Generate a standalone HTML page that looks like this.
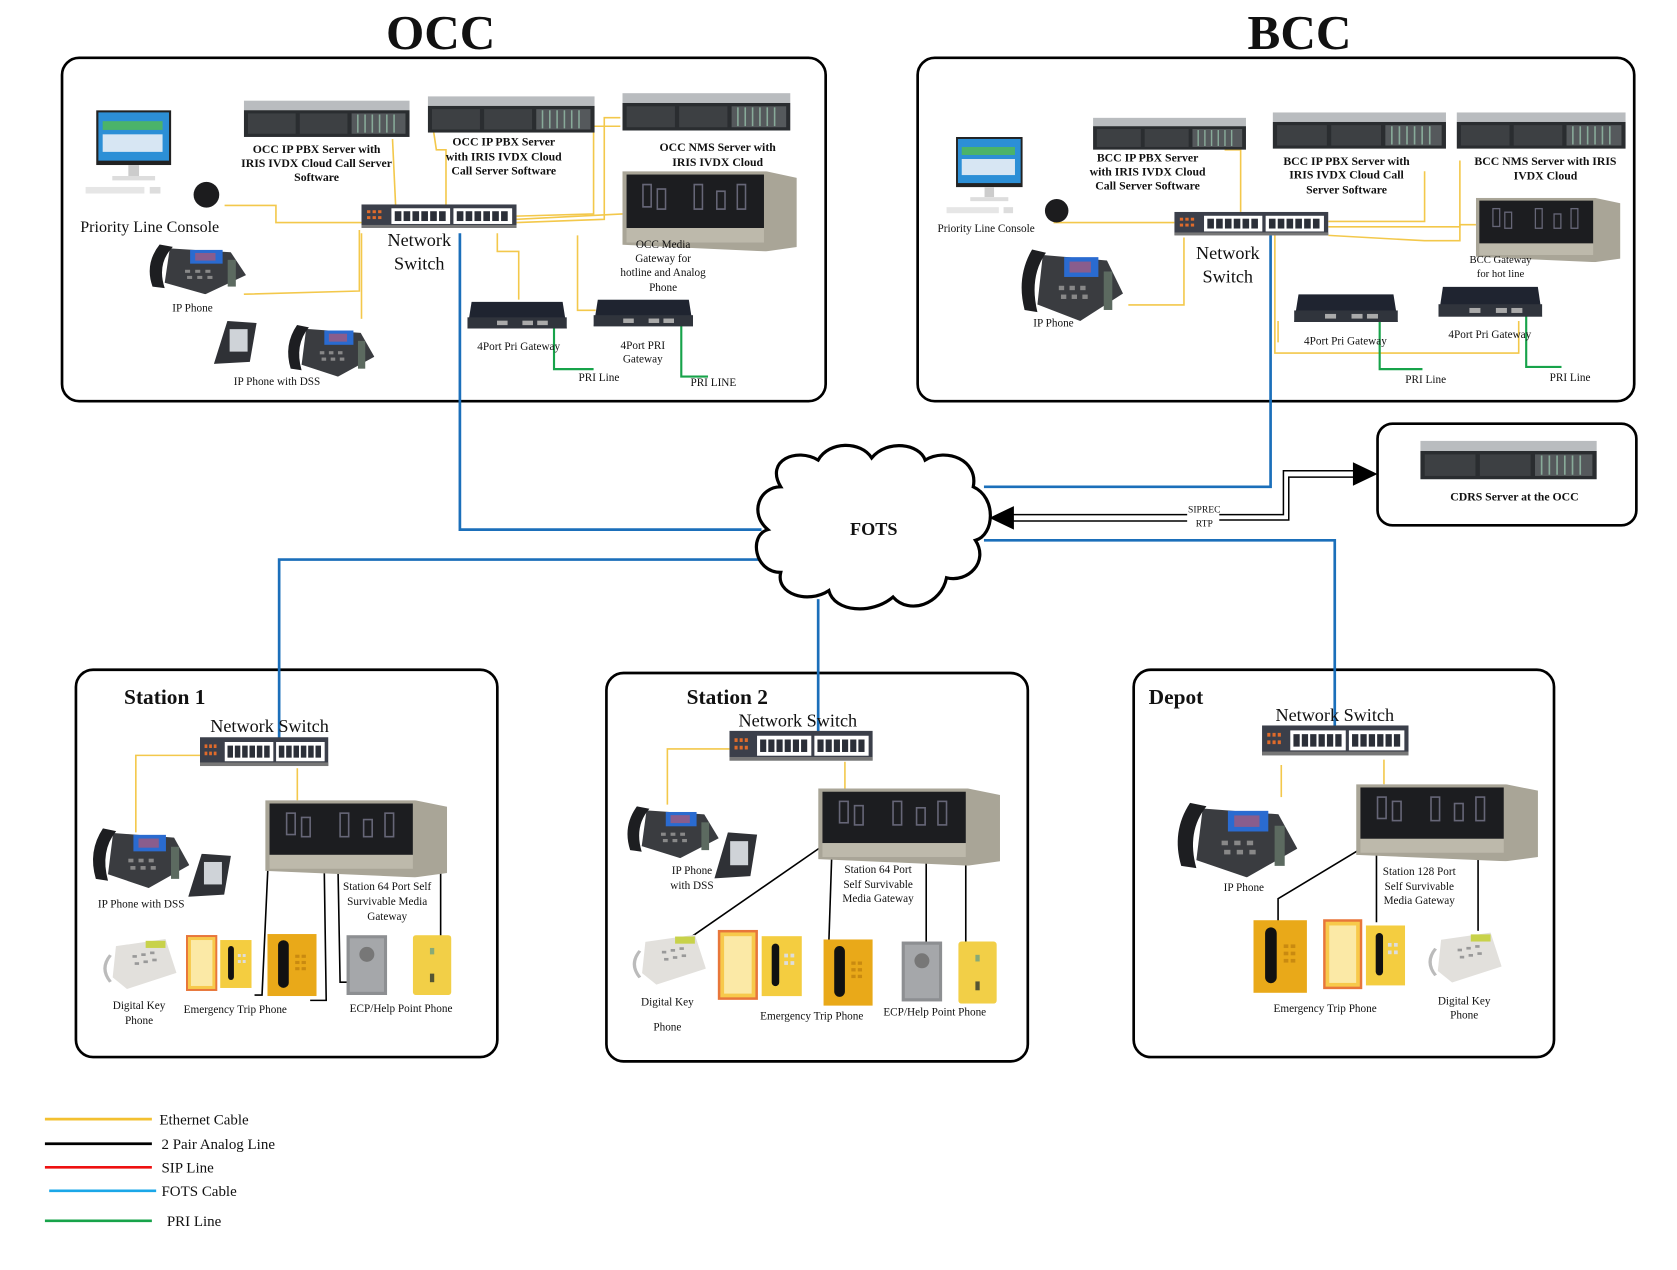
<!DOCTYPE html>
<html><head><meta charset="utf-8"><style>
html,body{margin:0;padding:0;background:#fff;}
svg{display:block;}
text{font-family:"Liberation Serif",serif;fill:#111;}
</style></head><body>
<svg width="1677" height="1270" viewBox="0 0 1568 1187" preserveAspectRatio="none" xmlns="http://www.w3.org/2000/svg">
<defs>
<symbol id="srv" viewBox="0 0 160 34" preserveAspectRatio="none">
<rect x="0" y="0" width="160" height="9" fill="#b9bcbf"/>
<rect x="0" y="9" width="160" height="25" fill="#2a2d30"/>
<rect x="4" y="12" width="46" height="19" fill="#3d4043"/>
<rect x="54" y="12" width="46" height="19" fill="#3d4043"/>
<rect x="104" y="12" width="52" height="19" fill="#55595c"/>
<g stroke="#8a9" stroke-width="1.5"><line x1="110" y1="13" x2="110" y2="30"/><line x1="117" y1="13" x2="117" y2="30"/><line x1="124" y1="13" x2="124" y2="30"/><line x1="131" y1="13" x2="131" y2="30"/><line x1="138" y1="13" x2="138" y2="30"/><line x1="145" y1="13" x2="145" y2="30"/></g>
</symbol>
<symbol id="sw" viewBox="0 0 140 24" preserveAspectRatio="none">
<rect x="0" y="0" width="140" height="24" fill="#3b3f4a"/>
<rect x="0" y="21" width="140" height="3" fill="#777"/>
<g fill="#e06b2b"><rect x="5" y="6" width="3" height="3"/><rect x="10" y="6" width="3" height="3"/><rect x="15" y="6" width="3" height="3"/><rect x="5" y="12" width="3" height="3"/><rect x="10" y="12" width="3" height="3"/><rect x="15" y="12" width="3" height="3"/></g>
<rect x="27" y="4" width="53" height="16" fill="#fff"/><rect x="83" y="4" width="53" height="16" fill="#fff"/>
<g fill="#2b2f38"><rect x="30" y="7" width="6" height="10"/><rect x="38" y="7" width="6" height="10"/><rect x="46" y="7" width="6" height="10"/><rect x="54" y="7" width="6" height="10"/><rect x="62" y="7" width="6" height="10"/><rect x="70" y="7" width="6" height="10"/><rect x="86" y="7" width="6" height="10"/><rect x="94" y="7" width="6" height="10"/><rect x="102" y="7" width="6" height="10"/><rect x="110" y="7" width="6" height="10"/><rect x="118" y="7" width="6" height="10"/><rect x="126" y="7" width="6" height="10"/></g>
</symbol>
<symbol id="mg" viewBox="0 0 170 72" preserveAspectRatio="none">
<polygon points="0,0 140,0 170,6 170,68 140,72 0,66" fill="#a9a597"/>
<rect x="4" y="3" width="134" height="48" fill="#1c1d20"/>
<g stroke="#667" stroke-width="1.5" fill="none"><rect x="20" y="12" width="8" height="20"/><rect x="34" y="16" width="8" height="18"/><rect x="70" y="12" width="8" height="22"/><rect x="92" y="18" width="8" height="16"/><rect x="112" y="12" width="8" height="22"/></g>
<rect x="4" y="51" width="134" height="13" fill="#bdb9ab"/>
</symbol>
<symbol id="gw" viewBox="0 0 94 24" preserveAspectRatio="none">
<polygon points="4,0 90,0 94,24 0,24" fill="#1f2430"/>
<rect x="0" y="14" width="94" height="10" fill="#30343c"/>
<g fill="#aaa"><rect x="28" y="17" width="10" height="4"/><rect x="52" y="17" width="10" height="4"/><rect x="66" y="17" width="10" height="4"/></g>
</symbol>
<symbol id="ph" viewBox="0 0 100 70" preserveAspectRatio="none">
<polygon points="25,10 85,15 100,45 60,70 20,55" fill="#3a3c40"/>
<path d="M15,5 Q0,30 8,60 L20,62 Q12,30 28,8 Z" fill="#1d1e21"/>
<rect x="45" y="12" width="32" height="18" fill="#2a6bd0"/>
<rect x="50" y="16" width="20" height="10" fill="#e8504a" opacity=".5"/>
<g fill="#888"><rect x="40" y="38" width="5" height="4"/><rect x="50" y="38" width="5" height="4"/><rect x="60" y="38" width="5" height="4"/><rect x="42" y="46" width="5" height="4"/><rect x="52" y="46" width="5" height="4"/><rect x="62" y="46" width="5" height="4"/></g>
<rect x="82" y="25" width="8" height="35" fill="#5c6a60"/>
</symbol>
<symbol id="dss" viewBox="0 0 40 44" preserveAspectRatio="none">
<polygon points="12,0 38,2 32,40 0,42" fill="#2f3136"/>
<rect x="14" y="8" width="16" height="22" fill="#cfd3d8"/>
</symbol>
<symbol id="dk" viewBox="0 0 70 60" preserveAspectRatio="none">
<polygon points="15,10 60,2 70,40 25,58 12,45" fill="#e2e0dc"/>
<rect x="42" y="4" width="18" height="8" fill="#c8d24a"/>
<g fill="#999"><rect x="30" y="20" width="4" height="3"/><rect x="38" y="18" width="4" height="3"/><rect x="46" y="16" width="4" height="3"/><rect x="32" y="28" width="4" height="3"/><rect x="40" y="26" width="4" height="3"/><rect x="48" y="24" width="4" height="3"/></g>
<path d="M10,20 Q0,35 10,50" stroke="#bbb" stroke-width="3" fill="none"/>
</symbol>
<symbol id="et" viewBox="0 0 70 60" preserveAspectRatio="none">
<rect x="2" y="2" width="30" height="54" fill="#f7c94b" stroke="#e8763a" stroke-width="2"/>
<rect x="6" y="6" width="22" height="46" fill="#fbe9a6"/>
<rect x="36" y="6" width="32" height="48" fill="#f4cd40"/>
<rect x="44" y="12" width="6" height="34" rx="3" fill="#111"/>
<g fill="#ddd"><rect x="54" y="20" width="3" height="3"/><rect x="59" y="20" width="3" height="3"/><rect x="54" y="26" width="3" height="3"/><rect x="59" y="26" width="3" height="3"/></g>
</symbol>
<symbol id="yp" viewBox="0 0 46 60" preserveAspectRatio="none">
<rect x="0" y="0" width="46" height="60" fill="#e9a919"/>
<rect x="10" y="6" width="10" height="46" rx="5" fill="#111"/>
<g fill="#c98a10"><rect x="26" y="20" width="4" height="3"/><rect x="32" y="20" width="4" height="3"/><rect x="26" y="26" width="4" height="3"/><rect x="32" y="26" width="4" height="3"/><rect x="26" y="32" width="4" height="3"/><rect x="32" y="32" width="4" height="3"/></g>
</symbol>
<symbol id="hp" viewBox="0 0 38 56" preserveAspectRatio="none">
<rect x="0" y="0" width="38" height="56" fill="#8d8f92"/><rect x="3" y="3" width="32" height="50" fill="#a5a7aa"/><circle cx="19" cy="18" r="7" fill="#777"/>
</symbol>
<symbol id="yh" viewBox="0 0 36 56" preserveAspectRatio="none">
<rect x="0" y="0" width="36" height="56" rx="3" fill="#f2cf47"/><rect x="16" y="12" width="4" height="6" fill="#8a7"/><rect x="16" y="36" width="4" height="8" fill="#553"/>
</symbol>
<symbol id="pc" viewBox="0 0 90 80" preserveAspectRatio="none">
<rect x="10" y="0" width="70" height="50" fill="#222"/><rect x="12" y="2" width="66" height="44" fill="#2c8fd6"/>
<rect x="16" y="10" width="56" height="8" fill="#4bb36a"/><rect x="16" y="22" width="56" height="16" fill="#d7e6f3"/>
<rect x="40" y="50" width="10" height="10" fill="#ccc"/><rect x="25" y="60" width="40" height="4" fill="#ddd"/>
<rect x="0" y="70" width="55" height="6" fill="#e6e6e6"/><rect x="60" y="70" width="10" height="6" fill="#ddd"/>
</symbol>
</defs>

<!-- Titles -->
<text x="412" y="46" font-size="46" font-weight="bold" text-anchor="middle">OCC</text>
<text x="1215" y="46" font-size="46" font-weight="bold" text-anchor="middle">BCC</text>

<!-- Boxes -->
<g fill="none" stroke="#000" stroke-width="2.5">
<rect x="58" y="54" width="714" height="321" rx="16"/>
<rect x="858" y="54" width="670" height="321" rx="16"/>
<rect x="1288" y="396" width="242" height="95" rx="14"/>
<rect x="71" y="626" width="394" height="362" rx="16"/>
<rect x="567" y="629" width="394" height="363" rx="16"/>
<rect x="1060" y="626" width="393" height="362" rx="16"/>
</g>

<!-- OCC yellow lines -->
<g fill="none" stroke="#f3c84b" stroke-width="1.5">
<polyline points="210,192 258,192 258,208 340,208"/>
<polyline points="228,275 336,272 336,215"/>
<polyline points="338,298 338,218"/>
<line x1="367" y1="130" x2="370" y2="194"/>
<polyline points="405,120 408,140 417,140 417,194"/>
<polyline points="483,202 555,200 555,118 580,118"/>
<polyline points="483,205 582,200"/>
<polyline points="483,208 565,205 565,110 580,110"/>
<polyline points="465,218 465,235 485,235 485,280"/>
<polyline points="540,220 540,290 557,290"/>
</g>
<!-- BCC yellow lines -->
<g fill="none" stroke="#f3c84b" stroke-width="1.5">
<polyline points="985,208 1098,208"/>
<polyline points="1055,285 1107,285 1107,222"/>
<polyline points="1145,140 1160,140 1160,198"/>
<polyline points="1242,207 1332,207 1332,160"/>
<polyline points="1242,212 1365,212 1365,210 1380,210"/>
<polyline points="1192,220 1192,330 1420,330 1420,300"/>
<polyline points="1242,220 1332,225 1332,225 1365,225 1365,150"/>
<line x1="1195" y1="300" x2="1195" y2="320"/>
</g>
<!-- Station yellow lines -->
<g fill="none" stroke="#f3c84b" stroke-width="1.5">
<polyline points="187,706 127,706 127,778"/>
<line x1="278" y1="718" x2="278" y2="748"/>
<polyline points="682,700 624,700 624,752"/>
<line x1="790" y1="712" x2="790" y2="738"/>
<line x1="1198" y1="715" x2="1198" y2="745"/>
<line x1="1294" y1="710" x2="1294" y2="733"/>
</g>

<!-- green PRI -->
<g fill="none" stroke="#17a34a" stroke-width="2">
<polyline points="518,300 518,345 555,345"/>
<polyline points="637,302 637,352 662,352"/>
<polyline points="1290,298 1290,345 1330,345"/>
<polyline points="1427,290 1427,343 1460,343"/>
</g>

<!-- black analog lines -->
<g fill="none" stroke="#000" stroke-width="1.5">
<polyline points="251,800 245,930 238,930"/>
<polyline points="303,800 305,935 290,935"/>
<polyline points="316,810 318,918 325,918"/>
<line x1="412" y1="800" x2="412" y2="875"/>
<polyline points="770,790 640,880"/>
<polyline points="778,790 775,880"/>
<line x1="866" y1="805" x2="866" y2="885"/>
<line x1="903" y1="800" x2="903" y2="882"/>
<polyline points="1278,790 1195,840 1195,862"/>
<line x1="1287" y1="785" x2="1287" y2="862"/>
<line x1="1382" y1="800" x2="1382" y2="870"/>
</g>

<!-- Blue FOTS -->
<g fill="none" stroke="#1b6fba" stroke-width="2.5">
<polyline points="430,218 430,495 712,495"/>
<polyline points="1188,220 1188,455 920,455"/>
<polyline points="920,505 1248,505 1248,690"/>
<polyline points="712,523 261,523 261,692"/>
<line x1="765" y1="560" x2="765" y2="685"/>
</g>

<!-- Cloud -->
<path d="M730,455 C715,430 745,418 765,430 C775,412 805,412 815,428 C830,410 860,415 865,430 C885,418 915,430 910,455 C932,465 930,500 912,505 C925,525 905,545 885,540 C880,565 850,575 835,558 C815,575 780,572 775,552 C755,565 725,555 730,535 C705,535 700,500 718,495 C700,480 710,455 730,455 Z" fill="#fff" stroke="#000" stroke-width="3"/>
<text x="817" y="500" font-size="17" font-weight="bold" text-anchor="middle">FOTS</text>

<!-- SIPREC double arrows -->
<g fill="none" stroke="#000" stroke-width="1.4">
<polyline points="1140,481 1200,481 1200,440 1270,440"/>
<polyline points="1140,486 1205,486 1205,446 1270,446"/>
<line x1="940" y1="481" x2="1110" y2="481"/>
<line x1="940" y1="487" x2="1110" y2="487"/>
</g>
<polygon points="1288,443 1265,432 1265,454" fill="#000"/>
<polygon points="925,484 948,473 948,495" fill="#000"/>
<text x="1126" y="479" font-size="9" text-anchor="middle" font-family="Liberation Sans">SIPREC</text>
<text x="1126" y="492" font-size="9" text-anchor="middle" font-family="Liberation Sans">RTP</text>

<!-- OCC devices -->
<use href="#pc" x="80" y="103" width="90" height="82"/>
<use href="#srv" x="228" y="94" width="155" height="34"/>
<use href="#srv" x="400" y="90" width="156" height="34"/>
<use href="#srv" x="582" y="87" width="157" height="35"/>
<use href="#sw" x="338" y="191" width="145" height="22"/>
<use href="#mg" x="582" y="160" width="163" height="75"/>
<use href="#ph" x="135" y="225" width="95" height="50"/>
<use href="#dss" x="200" y="300" width="42" height="42"/>
<use href="#ph" x="265" y="300" width="85" height="52"/>
<use href="#gw" x="437" y="282" width="93" height="25"/>
<use href="#gw" x="555" y="280" width="93" height="25"/>
<ellipse cx="193" cy="182" rx="12" ry="12" fill="#1c1c1e"/>

<g font-size="11" text-anchor="middle" font-weight="bold">
<text x="296" y="143">OCC IP PBX Server with</text>
<text x="296" y="156">IRIS IVDX Cloud Call Server</text>
<text x="296" y="169">Software</text>
<text x="471" y="136">OCC IP PBX Server</text>
<text x="471" y="150">with IRIS IVDX Cloud</text>
<text x="471" y="163">Call Server Software</text>
<text x="671" y="141">OCC NMS Server with</text>
<text x="671" y="155">IRIS IVDX Cloud</text>
</g>
<text x="140" y="217" font-size="15" text-anchor="middle">Priority Line Console</text>
<text x="392" y="230" font-size="17" text-anchor="middle">Network</text>
<text x="392" y="252" font-size="17" text-anchor="middle">Switch</text>
<g font-size="10.5" text-anchor="middle">
<text x="180" y="291">IP Phone</text>
<text x="259" y="360">IP Phone with DSS</text>
<text x="620" y="232">OCC Media</text>
<text x="620" y="245">Gateway for</text>
<text x="620" y="258">hotline and Analog</text>
<text x="620" y="272">Phone</text>
<text x="485" y="327">4Port Pri Gateway</text>
<text x="601" y="326">4Port PRI</text>
<text x="601" y="339">Gateway</text>
<text x="560" y="356">PRI Line</text>
<text x="667" y="361">PRI LINE</text>
</g>

<!-- BCC devices -->
<use href="#pc" x="885" y="128" width="80" height="75"/>
<ellipse cx="988" cy="197" rx="11" ry="11" fill="#1c1c1e"/>
<use href="#srv" x="1022" y="110" width="143" height="30"/>
<use href="#srv" x="1190" y="105" width="162" height="34"/>
<use href="#srv" x="1362" y="105" width="158" height="34"/>
<use href="#sw" x="1098" y="198" width="144" height="22"/>
<use href="#mg" x="1380" y="185" width="135" height="60"/>
<use href="#ph" x="950" y="228" width="100" height="72"/>
<use href="#gw" x="1210" y="275" width="97" height="26"/>
<use href="#gw" x="1345" y="268" width="97" height="28"/>
<g font-size="11" text-anchor="middle" font-weight="bold">
<text x="1073" y="151">BCC IP PBX Server</text>
<text x="1073" y="164">with IRIS IVDX Cloud</text>
<text x="1073" y="177">Call Server Software</text>
<text x="1259" y="154">BCC IP PBX Server with</text>
<text x="1259" y="167">IRIS IVDX Cloud Call</text>
<text x="1259" y="181">Server Software</text>
<text x="1445" y="154">BCC NMS Server with IRIS</text>
<text x="1445" y="168">IVDX Cloud</text>
</g>
<g font-size="10.5" text-anchor="middle">
<text x="922" y="217">Priority Line Console</text>
<text x="985" y="305">IP Phone</text>
<text x="1258" y="322">4Port Pri Gateway</text>
<text x="1393" y="316">4Port Pri Gateway</text>
<text x="1333" y="358">PRI Line</text>
<text x="1468" y="356">PRI Line</text>
</g>
<g font-size="10" text-anchor="middle" font-family="Liberation Sans">
<text x="1403" y="246">BCC Gateway</text>
<text x="1403" y="259">for hot line</text>
</g>
<text x="1148" y="242" font-size="17" text-anchor="middle">Network</text>
<text x="1148" y="264" font-size="17" text-anchor="middle">Switch</text>

<!-- CDRS -->
<use href="#srv" x="1328" y="412" width="165" height="36"/>
<text x="1416" y="468" font-size="11" font-weight="bold" text-anchor="middle">CDRS Server at the OCC</text>

<!-- Station 1 -->
<text x="116" y="658" font-size="20" font-weight="bold">Station 1</text>
<text x="252" y="684" font-size="17" text-anchor="middle">Network Switch</text>
<use href="#sw" x="187" y="689" width="120" height="27"/>
<use href="#mg" x="248" y="748" width="170" height="72"/>
<use href="#ph" x="82" y="770" width="95" height="60"/>
<use href="#dss" x="176" y="798" width="42" height="42"/>
<use href="#dk" x="93" y="876" width="72" height="50"/>
<use href="#et" x="173" y="873" width="64" height="56"/>
<use href="#yp" x="250" y="873" width="46" height="58"/>
<use href="#hp" x="324" y="874" width="38" height="56"/>
<use href="#yh" x="386" y="874" width="36" height="56"/>
<g font-size="10.5" text-anchor="middle">
<text x="132" y="848">IP Phone with DSS</text>
<text x="362" y="832">Station 64  Port Self</text>
<text x="362" y="846">Survivable  Media</text>
<text x="362" y="860">Gateway</text>
<text x="130" y="943">Digital Key</text>
<text x="130" y="957">Phone</text>
<text x="220" y="947">Emergency Trip Phone</text>
<text x="375" y="946">ECP/Help Point Phone</text>
</g>

<!-- Station 2 -->
<text x="642" y="658" font-size="20" font-weight="bold">Station 2</text>
<text x="746" y="679" font-size="17" text-anchor="middle">Network Switch</text>
<use href="#sw" x="682" y="683" width="134" height="28"/>
<use href="#mg" x="765" y="737" width="170" height="72"/>
<use href="#ph" x="582" y="750" width="90" height="52"/>
<use href="#dss" x="668" y="778" width="42" height="45"/>
<use href="#dk" x="588" y="872" width="72" height="50"/>
<use href="#et" x="670" y="868" width="82" height="70"/>
<use href="#yp" x="770" y="878" width="46" height="62"/>
<use href="#hp" x="843" y="880" width="38" height="56"/>
<use href="#yh" x="896" y="880" width="36" height="58"/>
<g font-size="10.5" text-anchor="middle">
<text x="647" y="817">IP Phone</text>
<text x="647" y="831">with DSS</text>
<text x="821" y="816">Station 64  Port</text>
<text x="821" y="830">Self Survivable</text>
<text x="821" y="843">Media Gateway</text>
<text x="624" y="940">Digital Key</text>
<text x="624" y="963">Phone</text>
<text x="759" y="953">Emergency Trip Phone</text>
<text x="874" y="949">ECP/Help Point Phone</text>
</g>

<!-- Depot -->
<text x="1074" y="658" font-size="20" font-weight="bold">Depot</text>
<text x="1248" y="674" font-size="17" text-anchor="middle">Network Switch</text>
<use href="#sw" x="1180" y="678" width="137" height="28"/>
<use href="#mg" x="1268" y="733" width="170" height="72"/>
<use href="#ph" x="1095" y="745" width="118" height="75"/>
<use href="#yp" x="1172" y="860" width="50" height="68"/>
<use href="#et" x="1236" y="858" width="80" height="70"/>
<use href="#dk" x="1332" y="870" width="72" height="50"/>
<g font-size="10.5" text-anchor="middle">
<text x="1163" y="833">IP Phone</text>
<text x="1327" y="818">Station 128  Port</text>
<text x="1327" y="832">Self Survivable</text>
<text x="1327" y="845">Media Gateway</text>
<text x="1239" y="946">Emergency Trip Phone</text>
<text x="1369" y="939">Digital Key</text>
<text x="1369" y="952">Phone</text>
</g>

<!-- Legend -->
<g stroke-width="2.5">
<line x1="42" y1="1046" x2="142" y2="1046" stroke="#f3c030"/>
<line x1="42" y1="1069" x2="142" y2="1069" stroke="#000"/>
<line x1="42" y1="1091" x2="142" y2="1091" stroke="#e11"/>
<line x1="46" y1="1113" x2="146" y2="1113" stroke="#1aa7e8"/>
<line x1="42" y1="1141" x2="142" y2="1141" stroke="#17a34a"/>
</g>
<g font-size="14">
<text x="149" y="1051">Ethernet Cable</text>
<text x="151" y="1074">2 Pair Analog Line</text>
<text x="151" y="1096">SIP Line</text>
<text x="151" y="1118">FOTS Cable</text>
<text x="156" y="1146">PRI Line</text>
</g>
</svg>
</body></html>
